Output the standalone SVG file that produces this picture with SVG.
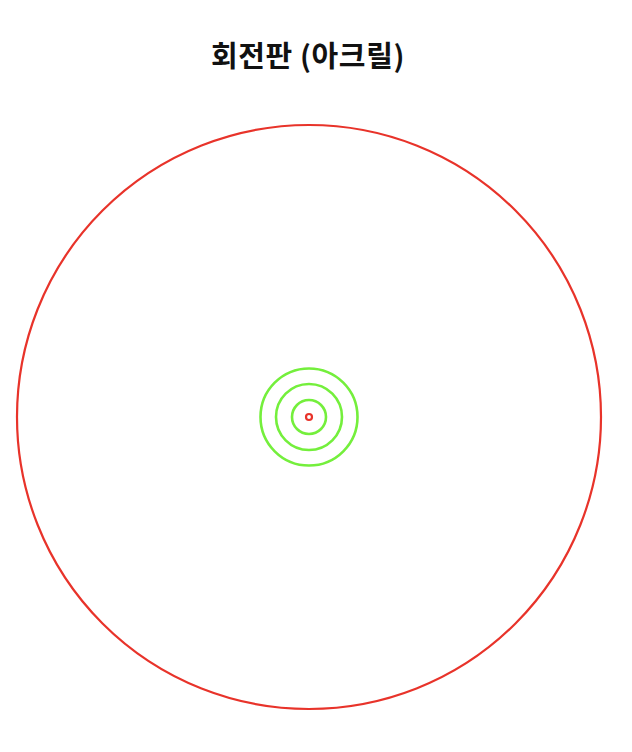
<svg xmlns="http://www.w3.org/2000/svg" width="632" height="752" viewBox="0 0 632 752">
<style>
.title{font-family:"Noto Sans CJK KR","Noto Sans",sans-serif;font-weight:bold;font-size:29px;letter-spacing:0.6px;fill:#111}
.red{fill:none;stroke:#e8332a;stroke-width:2.2}
.green{fill:none;stroke:#74ef3c;stroke-width:2.6}
</style>
<rect width="632" height="752" fill="#fff"/>
<text class="title" x="308" y="67" text-anchor="middle">회전판 (아크릴)</text>
<g id="disc"><circle class="red" cx="309" cy="417" r="292"/></g>
<g id="ring3"><circle class="green" cx="309" cy="417" r="48.5"/></g>
<g id="ring2"><circle class="green" cx="309" cy="417" r="33"/></g>
<g id="ring1"><circle class="green" cx="309" cy="417" r="17"/></g>
<g id="hole"><circle class="red" cx="309" cy="417" r="3" stroke-width="2.6"/></g>
<g id="connectors"/>
</svg>
